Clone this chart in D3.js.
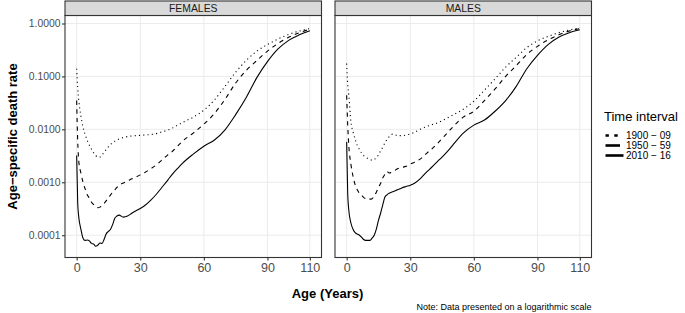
<!DOCTYPE html>
<html>
<head>
<meta charset="utf-8">
<script src="https://cdn.jsdelivr.net/npm/d3@7"></script>
<style>
  body { margin: 0; background: #fff; }
  svg { display: block; font-family: "Liberation Sans", Arial, sans-serif; }
</style>
</head>
<body>
<div id="chart"></div>
<script>
// age grid used for every series
var ages = [0, 0.5, 1, 2, 3, 4, 5, 6, 7, 8, 9, 10, 11, 12, 13, 14, 15, 16, 17, 18, 19, 20,
  22, 24, 26, 28, 30, 32, 35, 38, 40, 43, 45, 48, 50, 55, 60, 65, 70, 75, 80, 85, 90, 95, 100, 105, 110];

var females1900 = [0.14, 0.06, 0.035, 0.018, 0.011, 0.0080, 0.0062, 0.0050, 0.0042, 0.0036, 0.0032, 0.0030,
  0.0030, 0.0033, 0.0037, 0.0042, 0.0047, 0.0052, 0.0056, 0.0060, 0.0063, 0.0066, 0.0070, 0.0073, 0.0075,
  0.0076, 0.0077, 0.0078, 0.0080, 0.0084, 0.0089, 0.0097, 0.0105, 0.0122, 0.0135, 0.017, 0.023, 0.036,
  0.065, 0.12, 0.20, 0.30, 0.40, 0.51, 0.62, 0.72, 0.80];
var females1950 = [0.035, 0.006, 0.0025, 0.0015, 0.0010, 0.00075, 0.00058, 0.00050, 0.00042, 0.00038, 0.00035,
  0.00033, 0.00034, 0.00036, 0.00040, 0.00045, 0.00051, 0.00058, 0.00065, 0.00072, 0.00080, 0.00088, 0.00097,
  0.00106, 0.00116, 0.00126, 0.00138, 0.00152, 0.0018, 0.0022, 0.0026, 0.0033, 0.0038, 0.0050, 0.0060, 0.0085,
  0.0125, 0.020, 0.037, 0.075, 0.13, 0.20, 0.30, 0.42, 0.55, 0.67, 0.78];
var females2010 = [0.0032, 0.0004, 0.00022, 0.00013, 0.000088, 0.00008, 0.000081, 0.000078, 0.000070, 0.000068,
  0.000062, 0.000065, 0.000071, 0.000070, 0.000085, 0.000107, 0.000118, 0.000130, 0.00016, 0.00021, 0.00023,
  0.00024, 0.00022, 0.00023, 0.00026, 0.00029, 0.00032, 0.00036, 0.00046, 0.00062, 0.00078, 0.00110, 0.00140,
  0.0019, 0.0023, 0.0034, 0.0048, 0.0063, 0.0098, 0.019, 0.040, 0.095, 0.19, 0.33, 0.48, 0.61, 0.73];

var males1900 = [0.175, 0.07, 0.045, 0.014, 0.009, 0.0065, 0.0050, 0.0042, 0.0036, 0.0032, 0.0030, 0.0028,
  0.0027, 0.0026, 0.0027, 0.0029, 0.0033, 0.0039, 0.0046, 0.0055, 0.0064, 0.0072, 0.0082, 0.0076, 0.0076,
  0.0078, 0.0082, 0.0088, 0.0102, 0.0114, 0.0122, 0.0133, 0.0145, 0.0168, 0.0185, 0.024, 0.034, 0.055,
  0.09, 0.15, 0.23, 0.35, 0.47, 0.57, 0.67, 0.75, 0.83];
var males1950 = [0.044, 0.012, 0.005, 0.0022, 0.0013, 0.0009, 0.00072, 0.00062, 0.00057, 0.00052, 0.00049,
  0.00048, 0.00048, 0.00049, 0.00055, 0.00065, 0.0008, 0.00095, 0.0012, 0.0014, 0.0016, 0.0015, 0.0016,
  0.0018, 0.0019, 0.0020, 0.0022, 0.0024, 0.0028, 0.0036, 0.0042, 0.0055, 0.0067, 0.0090, 0.011, 0.017,
  0.022, 0.035, 0.058, 0.10, 0.16, 0.26, 0.37, 0.49, 0.61, 0.72, 0.80];
var males2010 = [0.0058, 0.0006, 0.0003, 0.00017, 0.00013, 0.000112, 0.000105, 0.0001, 0.000092, 0.000083,
  0.00008, 0.00008, 0.00008, 0.000088, 0.0001, 0.00013, 0.00019, 0.00026, 0.00037, 0.00052, 0.00058, 0.00062,
  0.00067, 0.00072, 0.00078, 0.00083, 0.00088, 0.00096, 0.0012, 0.0016, 0.0019, 0.0025, 0.0030, 0.0040,
  0.0050, 0.0085, 0.012, 0.015, 0.022, 0.035, 0.065, 0.14, 0.25, 0.40, 0.55, 0.67, 0.76];

var panelNames = ["FEMALES", "MALES"];
var intervals = ["1900 \u2212 09", "1950 \u2212 59", "2010 \u2212 16"];
var xTicks = [0, 30, 60, 90, 110];
var yTicks = [0.0001, 0.001, 0.01, 0.1, 1];

var panelData = [
  [females1900, females1950, females2010],
  [males1900, males1950, males2010]
];

var width = 685, height = 313;
var panelTop = 15.5, panelBottom = 257.5, stripTop = 1;
var panelX = [[65, 321.5], [335, 591.5]];
var dashes = ["1.1,3.2", "4.3,4.3", null];

var svg = d3.select("#chart").append("svg")
    .attr("width", width)
    .attr("height", height);

var y = d3.scaleLog()
    .domain([3.79e-5, 1.416])
    .range([panelBottom, panelTop]);

var line = d3.line()
    .curve(d3.curveMonotoneX);

panelNames.forEach(function(name, p) {
  var x = d3.scaleLinear()
      .domain([-5.5, 115.5])
      .range(panelX[p]);
  var x0 = panelX[p][0], x1 = panelX[p][1];

  var g = svg.append("g");

  // grid
  g.selectAll(".gx").data(xTicks).enter().append("line")
      .attr("x1", function(d) { return x(d); })
      .attr("x2", function(d) { return x(d); })
      .attr("y1", panelTop).attr("y2", panelBottom)
      .attr("stroke", "#ebebeb").attr("stroke-width", 1);
  g.selectAll(".gy").data(yTicks).enter().append("line")
      .attr("x1", x0).attr("x2", x1)
      .attr("y1", function(d) { return y(d); })
      .attr("y2", function(d) { return y(d); })
      .attr("stroke", "#ebebeb").attr("stroke-width", 1);

  // series
  panelData[p].forEach(function(vals, i) {
    var pts = ages.map(function(a, k) { return [x(a), y(vals[k])]; });
    g.append("path")
        .attr("d", line(pts))
        .attr("fill", "none")
        .attr("stroke", "#000")
        .attr("stroke-width", 1.1)
        .attr("stroke-dasharray", dashes[i]);
  });

  // panel border + strip
  g.append("rect")
      .attr("x", x0).attr("y", panelTop)
      .attr("width", x1 - x0).attr("height", panelBottom - panelTop)
      .attr("fill", "none").attr("stroke", "#333333").attr("stroke-width", 1.1);
  g.append("rect")
      .attr("x", x0).attr("y", stripTop)
      .attr("width", x1 - x0).attr("height", panelTop - stripTop)
      .attr("fill", "#d9d9d9").attr("stroke", "#333333").attr("stroke-width", 1.1);
  g.append("text")
      .attr("x", (x0 + x1) / 2).attr("y", (stripTop + panelTop) / 2)
      .attr("dy", "0.35em")
      .attr("text-anchor", "middle")
      .attr("font-size", 10.4)
      .attr("fill", "#1a1a1a")
      .text(name);

  // x axis
  var ax = g.append("g")
      .attr("transform", "translate(0," + panelBottom + ")")
      .call(d3.axisBottom(x).tickValues(xTicks).tickSize(3).tickPadding(2.5));
  ax.select(".domain").remove();
  ax.selectAll("line").attr("stroke", "#333333").attr("stroke-width", 1.1);
  ax.selectAll("text").attr("font-size", 12.5).attr("fill", "#4d4d4d")
      .attr("font-family", "Liberation Sans, Arial, sans-serif");

  // y axis ticks and labels only on the first panel
  if (p === 0) {
    var ay = g.append("g")
        .attr("transform", "translate(" + x0 + ",0)")
        .call(d3.axisLeft(y).tickValues(yTicks).tickFormat(d3.format(".4f"))
          .tickSize(3).tickPadding(1.5));
    ay.select(".domain").remove();
    ay.selectAll("line").attr("stroke", "#333333").attr("stroke-width", 1.1);
    ay.selectAll("text").attr("font-size", 10.4).attr("fill", "#4d4d4d")
        .attr("font-family", "Liberation Sans, Arial, sans-serif");
  }
});

// axis titles
svg.append("text")
    .attr("x", 327.5).attr("y", 298)
    .attr("text-anchor", "middle")
    .attr("font-size", 13).attr("font-weight", "bold")
    .text("Age (Years)");

svg.append("text")
    .attr("transform", "translate(17," + ((panelTop + panelBottom) / 2) + ") rotate(-90)")
    .attr("text-anchor", "middle")
    .attr("font-size", 13).attr("font-weight", "bold")
    .text("Age\u2212specific death rate");

// note
svg.append("text")
    .attr("x", 591.5).attr("y", 310)
    .attr("text-anchor", "end")
    .attr("font-size", 9)
    .text("Note: Data presented on a logarithmic scale");

// legend
var legend = svg.append("g");
legend.append("text")
    .attr("x", 604).attr("y", 120.5)
    .attr("font-size", 13)
    .text("Time interval");
var legendDash = ["3.4,5.4", "14.5,20", null];
var legendEnd = [618, 623.5, 623.5];
intervals.forEach(function(label, i) {
  var cy = 135.5 + i * 10;
  legend.append("line")
      .attr("x1", 605.5).attr("x2", legendEnd[i])
      .attr("y1", cy).attr("y2", cy)
      .attr("stroke", "#000").attr("stroke-width", 2.6)
      .attr("stroke-dasharray", legendDash[i]);
  legend.append("text")
      .attr("x", 626).attr("y", cy)
      .attr("dy", "0.35em")
      .attr("font-size", 10)
      .text(label);
});
</script>
</body>
</html>
